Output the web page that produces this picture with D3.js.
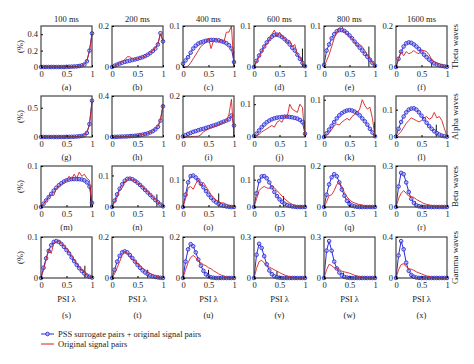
<!DOCTYPE html>
<html>
<head>
<meta charset="utf-8">
<script src="https://cdn.jsdelivr.net/npm/d3@7"></script>
<style>
  body { margin: 0; background: #fff; }
  text { font-family: "Liberation Serif", "DejaVu Serif", serif; fill: #222; }
</style>
</head>
<body>
<div id="chart"></div>
<script>
(function() {

    // PSI lambda grid (x values of every curve)
    const psi = [0, 0.05, 0.1, 0.15, 0.2, 0.25, 0.3, 0.35, 0.4, 0.45, 0.5,
                 0.55, 0.6, 0.65, 0.7, 0.75, 0.8, 0.85, 0.9, 0.95, 1];

    const windows = ["100 ms", "200 ms", "400 ms", "600 ms", "800 ms", "1600 ms"];
    const bands = ["Theta waves", "Alpha waves", "Beta waves", "Gamma waves"];
    const letters = "abcdefghijklmnopqrstuvwx".split("");

    // y axis upper limit and ticks per panel, row by row
    const yMax = [
        [0.5, 0.2, 0.1, 0.1, 0.1, 0.2],
        [0.7, 0.4, 0.2, 0.125, 0.11, 0.15],
        [0.1, 0.13, 0.15, 0.15, 0.2, 0.3],
        [0.1, 0.2, 0.2, 0.3, 0.3, 0.4]
    ];
    const yTicks = [
        [[0, 0.2, 0.4], [0, 0.2], [0, 0.1], [0, 0.1], [0, 0.1], [0, 0.2]],
        [[0, 0.5], [0, 0.4], [0, 0.2], [0, 0.1], [0, 0.1], [0, 0.1]],
        [[0, 0.1], [0, 0.1], [0, 0.1], [0, 0.1], [0, 0.2], [0, 0.3]],
        [[0, 0.1], [0, 0.2], [0, 0.2], [0, 0.3], [0, 0.3], [0, 0.4]]
    ];

    // black threshold bar: [psi, height] or null
    const thresholds = [
        [null, null, [0.99, 0.04], [0.95, 0.045], [0.88, 0.05], [0.7, 0.04]],
        [null, null, [0.99, 0.07], [0.99, 0.05], [0.99, 0.04], [0.79, 0.045]],
        [[0.97, 0.05], [0.88, 0.04], [0.7, 0.05], [0.58, 0.04], [0.5, 0.03], [0.38, 0.04]],
        [[0.86, 0.03], [0.7, 0.04], [0.5, 0.04], [0.45, 0.05], [0.38, 0.04], [0.3, 0.04]]
    ];

    // PSS surrogate pairs + original signal pairs (blue)
    const thetaPSS = [
        [0,0,0,0,0,0,0,0,0,0,0.002,0.003,0.004,0.006,0.008,0.012,0.02,0.03,0.07,0.2,0.41],
        [0,0.006,0.012,0.017,0.021,0.025,0.028,0.031,0.034,0.037,0.04,0.044,0.048,0.053,0.06,0.068,0.078,0.09,0.11,0.165,0.125],
        [0.008,0.016,0.024,0.035,0.045,0.052,0.057,0.06,0.062,0.064,0.065,0.066,0.066,0.065,0.065,0.063,0.061,0.058,0.053,0.045,0.012],
        [0,0.015,0.028,0.04,0.05,0.06,0.068,0.074,0.078,0.079,0.077,0.073,0.068,0.062,0.055,0.047,0.04,0.03,0.02,0.01,0.002],
        [0.005,0.04,0.055,0.07,0.08,0.087,0.09,0.09,0.088,0.083,0.077,0.07,0.062,0.055,0.047,0.04,0.032,0.025,0.018,0.01,0.003],
        [0,0.04,0.075,0.1,0.115,0.12,0.118,0.11,0.1,0.088,0.075,0.06,0.048,0.036,0.026,0.018,0.012,0.008,0.005,0.003,0.001]
    ];
    const alphaPSS = [
        [0,0,0,0,0,0,0,0,0,0,0.002,0.003,0.004,0.005,0.008,0.012,0.018,0.03,0.07,0.22,0.62],
        [0,0.001,0.002,0.003,0.004,0.005,0.006,0.008,0.01,0.012,0.015,0.019,0.023,0.028,0.035,0.045,0.057,0.075,0.1,0.16,0.3],
        [0.003,0.009,0.015,0.02,0.025,0.029,0.033,0.037,0.04,0.044,0.048,0.052,0.056,0.06,0.065,0.07,0.075,0.08,0.086,0.105,0.056],
        [0.003,0.01,0.02,0.03,0.038,0.045,0.05,0.054,0.057,0.059,0.06,0.061,0.062,0.062,0.061,0.06,0.058,0.056,0.052,0.045,0.01],
        [0,0.01,0.02,0.03,0.04,0.05,0.058,0.064,0.068,0.071,0.072,0.071,0.068,0.064,0.058,0.05,0.042,0.033,0.022,0.012,0.002],
        [0.002,0.03,0.055,0.075,0.09,0.1,0.104,0.105,0.1,0.09,0.078,0.065,0.052,0.04,0.03,0.021,0.014,0.009,0.005,0.003,0.001]
    ];
    const betaPSS = [
        [0,0.008,0.016,0.024,0.032,0.04,0.047,0.053,0.058,0.062,0.065,0.067,0.068,0.068,0.068,0.068,0.067,0.065,0.06,0.05,0.01],
        [0,0.02,0.04,0.058,0.072,0.083,0.089,0.09,0.088,0.083,0.077,0.07,0.062,0.054,0.046,0.038,0.03,0.022,0.015,0.008,0.002],
        [0,0.045,0.09,0.113,0.115,0.108,0.098,0.085,0.072,0.058,0.045,0.034,0.024,0.017,0.011,0.007,0.004,0.002,0.001,0,0],
        [0,0.05,0.095,0.112,0.113,0.105,0.09,0.072,0.055,0.04,0.028,0.019,0.012,0.007,0.004,0.002,0.001,0,0,0,0],
        [0,0.06,0.11,0.145,0.16,0.15,0.12,0.085,0.055,0.03,0.015,0.007,0.003,0.001,0,0,0,0,0,0,0],
        [0,0.15,0.25,0.24,0.18,0.11,0.06,0.03,0.012,0.005,0.002,0,0,0,0,0,0,0,0,0,0]
    ];
    const gammaPSS = [
        [0,0.025,0.048,0.066,0.08,0.088,0.09,0.088,0.083,0.076,0.068,0.06,0.05,0.041,0.032,0.024,0.017,0.011,0.006,0.003,0.001],
        [0,0.04,0.08,0.108,0.125,0.13,0.125,0.112,0.097,0.08,0.064,0.05,0.037,0.027,0.019,0.013,0.008,0.005,0.003,0.001,0],
        [0,0.08,0.14,0.165,0.155,0.125,0.09,0.06,0.035,0.018,0.008,0.003,0.001,0,0,0,0,0,0,0,0],
        [0,0.17,0.25,0.22,0.16,0.1,0.055,0.028,0.012,0.005,0.002,0,0,0,0,0,0,0,0,0,0],
        [0,0.2,0.27,0.2,0.12,0.07,0.04,0.02,0.008,0.003,0.001,0,0,0,0,0,0,0,0,0,0],
        [0,0.22,0.36,0.28,0.15,0.07,0.03,0.012,0.004,0.001,0,0,0,0,0,0,0,0,0,0,0]
    ];

    // Original signal pairs (red)
    const thetaOrig = [
        [0,0,0,0,0,0,0,0,0,0,0.002,0.003,0.004,0.006,0.01,0.015,0.022,0.035,0.08,0.19,0.4],
        [0,0.005,0.012,0.02,0.028,0.035,0.05,0.05,0.04,0.037,0.04,0.045,0.048,0.053,0.062,0.07,0.08,0.095,0.115,0.16,0.13],
        [0,0,0.002,0.01,0.02,0.03,0.04,0.05,0.055,0.06,0.07,0.045,0.065,0.07,0.06,0.065,0.06,0.085,0.085,0.1,0],
        [0,0.012,0.025,0.035,0.05,0.055,0.065,0.08,0.09,0.075,0.085,0.075,0.07,0.06,0.065,0.05,0.055,0.03,0.025,0.01,0],
        [0,0.015,0.03,0.05,0.07,0.085,0.095,0.1,0.085,0.08,0.075,0.07,0.06,0.05,0.055,0.05,0.04,0.03,0.02,0.012,0],
        [0,0.04,0.075,0.055,0.075,0.065,0.07,0.08,0.07,0.065,0.08,0.08,0.075,0.06,0.035,0.025,0.02,0.015,0.01,0.005,0.002]
    ];
    const alphaOrig = [
        [0,0,0,0,0,0,0,0,0,0,0.002,0.003,0.004,0.006,0.009,0.013,0.02,0.035,0.08,0.2,0.6],
        [0,0.001,0.002,0.003,0.004,0.005,0.007,0.009,0.011,0.013,0.016,0.02,0.025,0.03,0.037,0.047,0.06,0.08,0.11,0.17,0.32],
        [0,0,0.001,0.002,0.003,0.003,0.004,0.01,0.025,0.032,0.04,0.045,0.05,0.055,0.06,0.065,0.07,0.08,0.11,0.184,0],
        [0,0.003,0.008,0.015,0.02,0.025,0.03,0.035,0.03,0.045,0.05,0.045,0.065,0.06,0.1,0.085,0.08,0.075,0.1,0.09,0],
        [0,0.005,0.01,0.02,0.03,0.035,0.032,0.04,0.045,0.05,0.045,0.055,0.06,0.065,0.075,0.1,0.085,0.075,0.08,0.05,0],
        [0,0.01,0.02,0.035,0.05,0.06,0.07,0.065,0.06,0.055,0.06,0.07,0.075,0.065,0.07,0.09,0.07,0.075,0.06,0.03,0.003]
    ];
    const betaOrig = [
        [0,0.008,0.015,0.025,0.03,0.028,0.045,0.05,0.055,0.06,0.065,0.075,0.068,0.08,0.07,0.085,0.075,0.08,0.07,0.065,0],
        [0,0.015,0.03,0.055,0.06,0.08,0.085,0.092,0.085,0.085,0.075,0.07,0.065,0.055,0.05,0.04,0.03,0.025,0.015,0.01,0.002],
        [0,0.03,0.07,0.075,0.065,0.085,0.1,0.08,0.09,0.075,0.06,0.045,0.035,0.025,0.02,0.015,0.015,0.01,0.005,0.003,0],
        [0,0.03,0.06,0.07,0.075,0.07,0.068,0.075,0.07,0.06,0.05,0.04,0.03,0.022,0.015,0.01,0.006,0.004,0.002,0.001,0],
        [0,0.025,0.055,0.06,0.08,0.11,0.12,0.1,0.07,0.05,0.035,0.025,0.02,0.015,0.012,0.01,0.004,0.002,0.001,0,0],
        [0,0.06,0.1,0.12,0.1,0.08,0.075,0.07,0.055,0.045,0.035,0.025,0.02,0.015,0.01,0.006,0.003,0.001,0,0,0]
    ];
    const gammaOrig = [
        [0,0.02,0.045,0.07,0.06,0.085,0.088,0.09,0.085,0.08,0.072,0.065,0.055,0.045,0.035,0.028,0.02,0.013,0.008,0.004,0.001],
        [0,0.02,0.05,0.08,0.11,0.13,0.12,0.1,0.09,0.085,0.07,0.06,0.048,0.04,0.03,0.022,0.015,0.01,0.006,0.003,0.001],
        [0,0.04,0.075,0.1,0.11,0.1,0.085,0.075,0.065,0.06,0.05,0.045,0.035,0.028,0.02,0.014,0.01,0.006,0.003,0.001,0],
        [0,0.07,0.12,0.13,0.11,0.09,0.08,0.07,0.06,0.05,0.04,0.03,0.022,0.015,0.01,0.006,0.003,0.001,0,0,0],
        [0,0.06,0.1,0.09,0.075,0.07,0.065,0.05,0.045,0.04,0.035,0.028,0.02,0.015,0.01,0.006,0.003,0,0,0,0],
        [0,0.08,0.13,0.14,0.11,0.09,0.085,0.075,0.06,0.05,0.04,0.03,0.02,0.014,0.008,0.004,0.002,0,0,0,0]
    ];

    const pss = [thetaPSS, alphaPSS, betaPSS, gammaPSS];
    const orig = [thetaOrig, alphaOrig, betaOrig, gammaOrig];

    const width = 474;
    const height = 364;
    const colLeft = [41, 112, 183, 254, 324, 396];
    const rowTop = [26, 96, 166, 237];
    const pw = 51, ph = 41;
    const blue = "#2b2bd6", red = "#d62020";

    const svg = d3.select("#chart").append("svg")
        .attr("width", width)
        .attr("height", height);

    const x = d3.scaleLinear().domain([0, 1]).range([0, pw]);

    bands.forEach((band, r) => {
        windows.forEach((win, c) => {
            const g = svg.append("g")
                .attr("transform", `translate(${colLeft[c]},${rowTop[r]})`);
            const y = d3.scaleLinear().domain([0, yMax[r][c]]).range([ph, 0]);

            const line = d3.line()
                .x((d, i) => x(psi[i]))
                .y(d => y(d));

            // threshold bar
            const t = thresholds[r][c];
            if (t) {
                g.append("line")
                    .attr("x1", x(t[0])).attr("x2", x(t[0]))
                    .attr("y1", y(0)).attr("y2", y(t[1]))
                    .attr("stroke", "#111").attr("stroke-width", 1);
            }

            g.append("path")
                .datum(pss[r][c])
                .attr("d", line)
                .attr("fill", "none")
                .attr("stroke", blue)
                .attr("stroke-width", 1);

            g.selectAll("circle")
                .data(pss[r][c])
                .join("circle")
                .attr("cx", (d, i) => x(psi[i]))
                .attr("cy", d => y(d))
                .attr("r", 1.8)
                .attr("fill", "#b8b8ee")
                .attr("fill-opacity", 0.6)
                .attr("stroke", blue)
                .attr("stroke-width", 0.9);

            g.append("path")
                .datum(orig[r][c])
                .attr("d", line)
                .attr("fill", "none")
                .attr("stroke", red)
                .attr("stroke-width", 0.9);

            // box
            g.append("rect")
                .attr("width", pw).attr("height", ph)
                .attr("fill", "none")
                .attr("stroke", "#444")
                .attr("stroke-width", 1.2);

            // axes
            g.append("g")
                .attr("transform", `translate(0,${ph})`)
                .call(d3.axisBottom(x).tickValues([0, 0.5, 1]).tickSize(-2)
                    .tickPadding(4).tickFormat(d3.format("")))
                .call(a => a.select(".domain").remove())
                .call(a => a.selectAll("text").attr("font-size", 8.5));

            g.append("g")
                .call(d3.axisLeft(y).tickValues(yTicks[r][c]).tickSize(-2)
                    .tickPadding(3).tickFormat(d3.format("")))
                .call(a => a.select(".domain").remove())
                .call(a => a.selectAll("text").attr("font-size", 8.5));

            g.append("text")
                .attr("x", pw / 2).attr("y", r === 3 ? ph + 40 : ph + 23)
                .attr("text-anchor", "middle")
                .attr("font-size", 8.5)
                .text(`(${letters[r * 6 + c]})`);

            if (r === 0) {
                g.append("text")
                    .attr("x", pw / 2).attr("y", -4)
                    .attr("text-anchor", "middle")
                    .attr("font-size", 8.5)
                    .text(win);
            }
            if (r === 3) {
                g.append("text")
                    .attr("x", pw / 2).attr("y", ph + 24)
                    .attr("text-anchor", "middle")
                    .attr("font-size", 8.5)
                    .text("PSI λ");
            }
        });

        const mid = rowTop[r] + ph / 2;
        svg.append("text")
            .attr("transform", `translate(23,${mid}) rotate(-90)`)
            .attr("text-anchor", "middle")
            .attr("font-size", 8.5)
            .text("(%)");
        svg.append("text")
            .attr("transform", `translate(458,${mid}) rotate(-90)`)
            .attr("text-anchor", "middle")
            .attr("font-size", 9)
            .text(band);
    });

    // legend
    const legend = svg.append("g").attr("transform", "translate(41,334)");
    legend.append("line").attr("x1", 0).attr("x2", 13).attr("y1", 0).attr("y2", 0)
        .attr("stroke", blue).attr("stroke-width", 1);
    legend.append("circle").attr("cx", 6.5).attr("cy", 0).attr("r", 1.8)
        .attr("fill", "#b8b8ee").attr("stroke", blue).attr("stroke-width", 0.9);
    legend.append("text").attr("x", 17).attr("y", 3).attr("font-size", 8.5)
        .text("PSS surrogate pairs + original signal pairs");
    legend.append("line").attr("x1", 0).attr("x2", 13).attr("y1", 10).attr("y2", 10)
        .attr("stroke", red).attr("stroke-width", 1);
    legend.append("text").attr("x", 17).attr("y", 13).attr("font-size", 8.5)
        .text("Original signal pairs");

})();
</script>
</body>
</html>
